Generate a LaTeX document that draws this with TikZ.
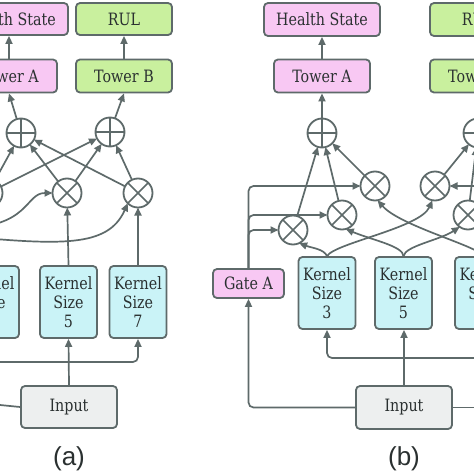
\documentclass[tikz,border=0pt]{standalone}
\usepackage{fontspec}
\setmainfont{DejaVu Serif}[FakeStretch=0.84]
\newfontfamily\labelfont{Liberation Sans}
\usetikzlibrary{arrows.meta}
\definecolor{lc}{HTML}{5E6A6A}
\definecolor{pk}{HTML}{F8C8F3}
\definecolor{gn}{HTML}{C9F09E}
\definecolor{cy}{HTML}{CAF3F7}
\definecolor{gy}{HTML}{EDEFEF}
\definecolor{txt}{HTML}{2A3030}
\newcommand\mulop[2]{\node[opc] (#1) at (#2) {}; \draw[con] (#1.45) -- (#1.-135) (#1.135) -- (#1.-45);}
\newcommand\addop[2]{\node[opc] (#1) at (#2) {}; \draw[con] (#1.north) -- (#1.south) (#1.east) -- (#1.west);}
\begin{document}
\begin{tikzpicture}[x=1pt,y=-1pt,
  box/.style={draw=lc, line width=1.8pt, rounded corners=4pt, minimum height=33pt, inner sep=0pt, text=txt, font=\fontsize{17}{19}\selectfont, align=center},
  pinkbox/.style={box, fill=pk},
  greenbox/.style={box, fill=gn},
  kbox/.style={box, fill=cy, minimum width=57pt, minimum height=72pt},
  inbox/.style={box, fill=gy, minimum width=96pt, minimum height=42pt},
  gatebox/.style={box, fill=pk, minimum width=71pt, minimum height=29pt},
  opc/.style={circle, draw=lc, fill=white, line width=1.8pt, minimum size=29pt, inner sep=0pt, outer sep=0pt},
  con/.style={draw=lc, line width=1.7pt},
  arr/.style={con, -{Triangle[length=8pt,width=7pt]}},
  lab/.style={text=txt, font=\labelfont\fontsize{26}{30}\selectfont}
]
\useasboundingbox (0,0) rectangle (474,474);
\clip (0,0) rectangle (474,474);
\fill[white] (0,0) rectangle (474,474);

% ---------------- panel (a) ----------------
\node[pinkbox, minimum width=116pt, minimum height=32pt] (hsa) at (10,19) {Health State};
\node[greenbox, minimum width=96pt, minimum height=32pt] (rula) at (124,19) {RUL};
\node[pinkbox, minimum width=96pt] (twaa) at (9,76) {Tower A};
\node[greenbox, minimum width=96pt] (twba) at (124,76) {Tower B};
\addop{pa1}{21,133}
\addop{pa2}{110,132}
\mulop{ma0}{-12,193}
\mulop{ma1}{67,193}
\mulop{ma2}{138,193}
\node[kbox] (ka3) at (-9.5,302) {Kernel\\Size\\3};
\node[kbox] (ka5) at (68.5,302) {Kernel\\Size\\5};
\node[kbox] (ka7) at (138,302) {Kernel\\Size\\7};
\node[inbox] (ina) at (69,407) {Input};
\node[lab] (laba) at (69,459) {(a)};

\draw[arr] (twaa.north) -- (twaa.north |- hsa.south);
\draw[arr] (twba.north) -- (twba.north |- rula.south);
\draw[arr] (pa1) -- (twaa.south);
\draw[arr] (pa2) -- (twba.south);
\foreach \m in {ma0,ma1,ma2}{
  \draw[arr] (\m) -- (pa1);
  \draw[arr] (\m) -- (pa2);
}
\draw[arr] (ka3.north) -- (ma0);
\draw[arr] (ka5.north) -- (ma1);
\draw[arr] (ka7.north) -- (ma2);
\draw[arr] (ina.north) -- (ka5.south);
\coordinate (ba) at (69,362);
\draw[arr, rounded corners=5pt] (ba) -| (ka7.south);
\draw[arr, rounded corners=5pt] (ba) -| (ka3.south);
\coordinate (gina) at (-40,401);
\draw[con] (ina.west) -- (gina);
\coordinate (ga1) at (-40,228);
\coordinate (ga2) at (-40,236);
\draw[arr] (ga1) .. controls (30,228) and (25,193) .. (ma1.west);
\draw[arr] (ga2) .. controls (60,245) and (108,248) .. (ma2.-135);

% ---------------- panel (b) ----------------
\node[pinkbox, minimum width=116pt] (hsb) at (322,19.5) {Health State};
\node[greenbox, minimum width=96pt] (rulb) at (478,19.5) {RUL};
\node[pinkbox, minimum width=96pt] (twab) at (322,76) {Tower A};
\node[greenbox, minimum width=96pt] (twbb) at (478,76) {Tower B};
\addop{pb1}{322,133}
\addop{pb2}{478,133}
\mulop{mb1}{375,186}
\mulop{mb2}{342,215}
\mulop{mb3}{293,230}
\mulop{mb4}{435,186}
\mulop{mb5}{468,215}
\mulop{mb6}{518,230}
\node[kbox] (kb3) at (327,293) {Kernel\\Size\\3};
\node[kbox] (kb5) at (403.5,293) {Kernel\\Size\\5};
\node[kbox] (kb7) at (483.5,293) {Kernel\\Size\\7};
\node[gatebox] (gta) at (248.5,283.5) {Gate A};
\node[inbox, minimum height=43pt] (inb) at (404,407.5) {Input};
\node[lab] (labb) at (404,459) {(b)};

\draw[arr] (twab.north) -- (hsb.south);
\draw[arr] (twbb.north) -- (rulb.south);
\draw[arr] (pb1.north) -- (twab.south);
\draw[arr] (pb2.north) -- (twbb.south);
\foreach \m in {mb1,mb2,mb3}{ \draw[arr] (\m) -- (pb1); }
\foreach \m in {mb4,mb5,mb6}{ \draw[arr] (\m) -- (pb2); }
\draw[arr] (inb.north) -- (inb.north |- kb5.south);
\coordinate (bb) at (404,358);
\draw[arr, rounded corners=5pt] (bb) -| (kb3.south);
\draw[arr, rounded corners=5pt] (bb) -| (kb7.south);
\draw[arr, rounded corners=5pt] (inb.west) -| (gta.south);
\coordinate (ginb) at (540,407.5);
\draw[con] (inb.east) -- (ginb);
\draw[arr, rounded corners=5pt] (gta.north) |- (mb1.west);
\draw[arr, rounded corners=5pt] (gta.north) |- (mb2.west);
\draw[arr, rounded corners=5pt] (gta.north) |- (mb3.west);
\coordinate (gb4) at (540,186);
\coordinate (gb5) at (540,215);
\draw[arr] (gb4) -- (mb4.east);
\draw[arr] (gb5) -- (mb5.east);
\draw[arr] (kb3.north) .. controls (324,249) and (312,248) .. (mb3.-65);
\draw[arr] (kb3.north) .. controls (335,243) and (420,228) .. (mb4.-100);
\draw[arr] (kb5.north) .. controls (403,246) and (372,240) .. (mb2.-75);
\draw[arr] (kb5.north) .. controls (405,246) and (440,240) .. (mb5.-125);
\draw[arr] (kb7.north) .. controls (478,246) and (400,226) .. (mb1.-80);
\draw[arr] (kb7.north) .. controls (488,249) and (500,248) .. (mb6.-115);
\end{tikzpicture}
\end{document}
